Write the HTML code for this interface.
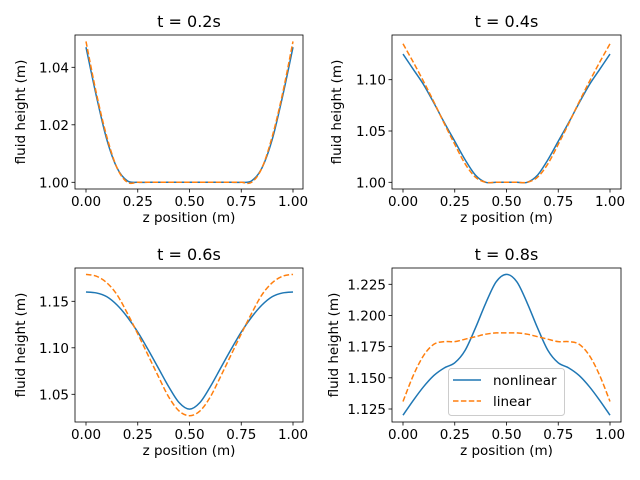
<!DOCTYPE html>
<html><head><meta charset="utf-8"><style>
body{margin:0;background:#fff}
svg{display:block;font-family:"DejaVu Sans","Liberation Sans",sans-serif}
</style></head><body>
<svg id="fig" width="640" height="480" viewBox="0 0 640 480"></svg>
<script>
const zVals=[0,0.05,0.1,0.15,0.2,0.25,0.3,0.35,0.4,0.45,0.5,0.55,0.6,0.65,0.7,0.75,0.8,0.85,0.9,0.95,1];
const nl02=[1.047,1.030,1.015,1.005,1.0005,1.000,1.000,1.000,1.000,1.000,1.000,1.000,1.000,1.000,1.000,1.000,1.0005,1.005,1.015,1.030,1.047];
const li02=[1.049,1.031,1.016,1.005,1.000,1.000,1.000,1.000,1.000,1.000,1.000,1.000,1.000,1.000,1.000,1.000,1.000,1.005,1.016,1.031,1.049];
const nl04=[1.125,1.110,1.095,1.077,1.058,1.040,1.022,1.007,1.000,1.000,1.000,1.000,1.000,1.007,1.022,1.040,1.058,1.077,1.095,1.110,1.125];
const li04=[1.135,1.117,1.098,1.078,1.057,1.037,1.018,1.005,1.000,1.000,1.000,1.000,1.000,1.005,1.018,1.037,1.057,1.078,1.098,1.117,1.135];
const nl06=[1.160,1.159,1.155,1.146,1.133,1.117,1.098,1.078,1.058,1.041,1.034,1.041,1.058,1.078,1.098,1.117,1.133,1.146,1.155,1.159,1.160];
const li06=[1.179,1.177,1.170,1.157,1.137,1.115,1.092,1.069,1.047,1.032,1.027,1.032,1.047,1.069,1.092,1.115,1.137,1.157,1.170,1.177,1.179];
const nl08=[1.120,1.132,1.143,1.152,1.158,1.162,1.172,1.190,1.210,1.227,1.233,1.227,1.210,1.190,1.172,1.162,1.158,1.152,1.143,1.132,1.120];
const li08=[1.131,1.152,1.168,1.177,1.179,1.179,1.181,1.183,1.185,1.186,1.186,1.186,1.185,1.183,1.181,1.179,1.179,1.177,1.168,1.152,1.131];
const xTicks=["0.00","0.25","0.50","0.75","1.00"];
const yTicks02=["1.00","1.02","1.04"];
const yTicks04=["1.00","1.05","1.10"];
const yTicks06=["1.05","1.10","1.15"];
const yTicks08=["1.125","1.150","1.175","1.200","1.225"];
const titles=["t = 0.2s","t = 0.4s","t = 0.6s","t = 0.8s"];

const NS="http://www.w3.org/2000/svg";
const svg=document.getElementById('fig');
function mk(tag,attrs,parent){const e=document.createElementNS(NS,tag);for(const k in attrs)e.setAttribute(k,attrs[k]);(parent||svg).appendChild(e);return e;}
function smooth(P){
 let d='M'+P[0][0].toFixed(2)+','+P[0][1].toFixed(2);
 for(let i=0;i<P.length-1;i++){
  const p0=P[Math.max(0,i-1)],p1=P[i],p2=P[i+1],p3=P[Math.min(P.length-1,i+2)];
  const c1x=p1[0]+(p2[0]-p0[0])/6,c1y=p1[1]+(p2[1]-p0[1])/6;
  const c2x=p2[0]-(p3[0]-p1[0])/6,c2y=p2[1]-(p3[1]-p1[1])/6;
  d+=' C'+c1x.toFixed(2)+','+c1y.toFixed(2)+' '+c2x.toFixed(2)+','+c2y.toFixed(2)+' '+p2[0].toFixed(2)+','+p2[1].toFixed(2);
 }
 return d;
}

const panels=[
 {box:[75,35,303,189],x0:86,x1:293,yv0:1.00,yp0:182.3,yv1:1.04,yp1:67.3,nl:nl02,li:li02,yt:yTicks02,title:titles[0],yl:25},
 {box:[392,35,621,189],x0:403,x1:610,yv0:1.00,yp0:182.3,yv1:1.10,yp1:79.7,nl:nl04,li:li04,yt:yTicks04,title:titles[1],yl:341},
 {box:[75,268,303,422],x0:86,x1:293,yv0:1.05,yp0:394.3,yv1:1.15,yp1:301.3,nl:nl06,li:li06,yt:yTicks06,title:titles[2],yl:25},
 {box:[392,268,621,422],x0:403,x1:610,yv0:1.125,yp0:409,yv1:1.225,yp1:284.3,nl:nl08,li:li08,yt:yTicks08,title:titles[3],yl:338}
];
panels.forEach((p,i)=>{
 const g=mk('g',{});
 
 
 const [l,t,r,b]=p.box;
 const xs=v=>p.x0+(p.x1-p.x0)*v;
 const ys=v=>p.yp0+(p.yp1-p.yp0)*(v-p.yv0)/(p.yv1-p.yv0);
 xTicks.forEach(s=>{const x=xs(parseFloat(s));
  mk('line',{x1:x,x2:x,y1:b,y2:b+3.5,stroke:'#000','stroke-width':0.8},g);
  const tx=mk('text',{x:x,y:b+17,'text-anchor':'middle','font-size':'13.5'},g);tx.textContent=s;
  
  
 });
 p.yt.forEach(s=>{const y=ys(parseFloat(s));
  mk('line',{x1:l-3.5,x2:l,y1:y,y2:y,stroke:'#000','stroke-width':0.8},g);
  const tx=mk('text',{x:l-6,y:y+5,'text-anchor':'end','font-size':'13.5'},g);tx.textContent=s;
  
  
 });
 const clip=mk('clipPath',{id:'c'+i},g);mk('rect',{x:l,y:t,width:r-l,height:b-t},clip);
 const pts=arr=>arr.map((v,j)=>[xs(zVals[j]),ys(v)]);
 const l1=mk('path',{d:smooth(pts(p.nl)),fill:'none',stroke:'#1f77b4','stroke-width':1.5,'clip-path':'url(#c'+i+')'},g);
 
 
 const l2=mk('path',{d:smooth(pts(p.li)),fill:'none',stroke:'#ff7f0e','stroke-width':1.5,'stroke-dasharray':'5.5,2.4','clip-path':'url(#c'+i+')'},g);
 
 
 mk('rect',{x:l,y:t,width:r-l,height:b-t,fill:'none',stroke:'#000','stroke-width':0.8},g);
 const tt=mk('text',{x:(l+r)/2,y:t-8,'text-anchor':'middle','font-size':'16'},g);tt.textContent=p.title;
 
 
 const xl=mk('text',{x:(l+r)/2,y:b+33,'text-anchor':'middle','font-size':'13.5'},g);xl.textContent='z position (m)';
 
 
 const yl=mk('text',{x:0,y:0,'text-anchor':'middle','font-size':'13.5',transform:'translate('+p.yl+','+((t+b)/2)+') rotate(-90)'},g);yl.textContent='fluid height (m)';
 
 
});
const lg=mk('g',{});


mk('rect',{x:448.5,y:368.5,width:116,height:47,rx:3,fill:'#fff','fill-opacity':0.8,stroke:'#ccc','stroke-width':1},lg);
mk('line',{x1:453,x2:481,y1:380,y2:380,stroke:'#1f77b4','stroke-width':1.5},lg);
mk('line',{x1:453,x2:481,y1:401,y2:401,stroke:'#ff7f0e','stroke-width':1.5,'stroke-dasharray':'5.5,2.4'},lg);
const e1=mk('text',{x:493,y:385,'font-size':'13.5'},lg);e1.textContent='nonlinear';


const e2=mk('text',{x:493,y:406,'font-size':'13.5'},lg);e2.textContent='linear';


</script>
</body></html>
